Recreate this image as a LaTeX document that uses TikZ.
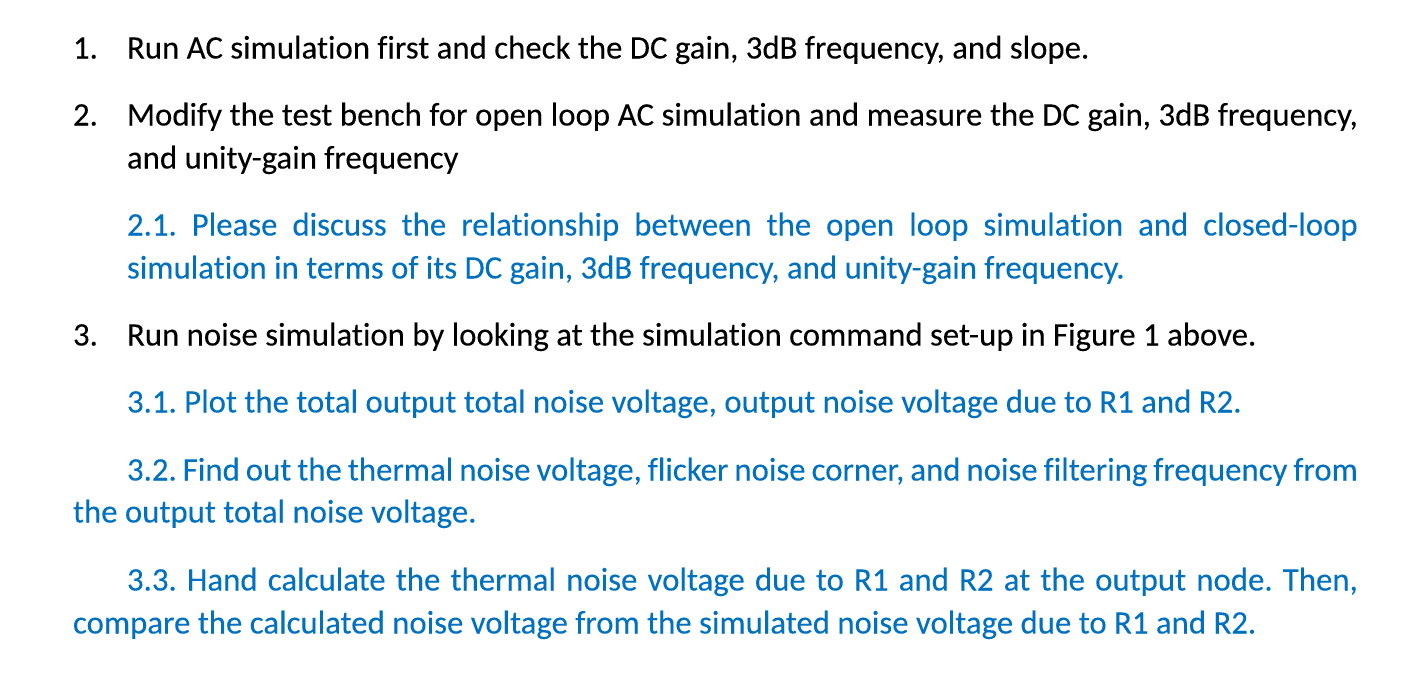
\documentclass[tikz,border=0pt]{standalone}
\usepackage{fontspec}
\setmainfont{Carlito}[RawFeature={-liga;-clig},FakeBold=0.08]
\definecolor{tblue}{HTML}{0070C0}
\definecolor{tblack}{HTML}{000000}
\newcommand{\fs}{\fontsize{32.8}{43}\selectfont\frenchspacing}
\tikzset{
  line/.style={anchor=base west,inner sep=0pt,outer sep=0pt,font=\fs,yshift=-0.5pt},
  blk/.style={line,text=tblack},
  blu/.style={line,text=tblue}
}
\newcommand{\just}[2]{\hbox to #1pt{\spaceskip=0.226em plus 1fil minus 1fil\relax #2}}
\begin{document}
\begin{tikzpicture}[x=1pt,y=-1pt]
\useasboundingbox (0,0) rectangle (1426,678);
\fill[white] (0,0) rectangle (1426,678);
\node[blk] (n1) at (73,58) {1.};
\node[blk] (l1) at (127,58) {Run AC simulation first and check the DC gain, 3dB frequency, and slope.};
\node[blk] (n2) at (73,125) {2.};
\node[blk] (l2) at (127,125) {\just{1231}{Modify the test bench for open loop AC simulation and measure the DC gain, 3dB frequency,}};
\node[blk] (l2b) at (127,168) {and unity-gain frequency};
\node[blu] (l21) at (127,235) {\just{1231}{2.1. Please discuss the relationship between the open loop simulation and closed-loop}};
\node[blu] (l21b) at (127,278) {simulation in terms of its DC gain, 3dB frequency, and unity-gain frequency.};
\node[blk] (n3) at (73,345) {3.};
\node[blk] (l3) at (127,345) {Run noise simulation by looking at the simulation command set-up in Figure 1 above.};
\node[blu] (l31) at (127,412) {3.1. Plot the total output total noise voltage, output noise voltage due to R1 and R2.};
\node[blu] (l32) at (127,480) {\just{1231}{3.2. Find out the thermal noise voltage, flicker noise corner, and noise filtering frequency from}};
\node[blu] (l32b) at (73,522) {the output total noise voltage.};
\node[blu] (l33) at (127,590) {\just{1231}{3.3. Hand calculate the thermal noise voltage due to R1 and R2 at the output node. Then,}};
\node[blu] (l33b) at (73,633) {compare the calculated noise voltage from the simulated noise voltage due to R1 and R2.};
\end{tikzpicture}
\end{document}
